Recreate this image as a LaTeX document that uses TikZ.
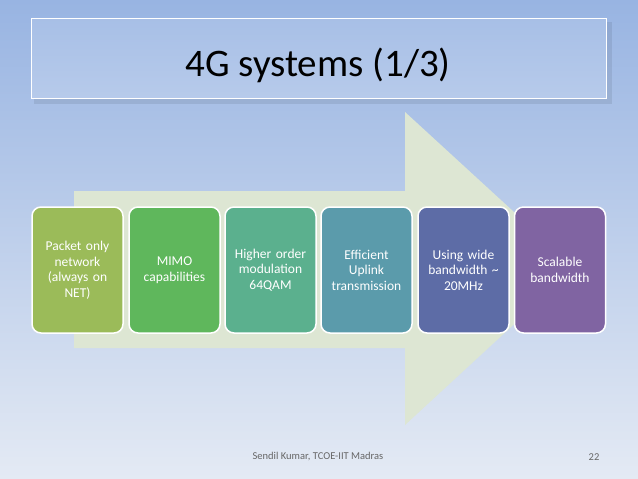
\documentclass[tikz,border=0pt]{standalone}
\usepackage{fontspec}
\setmainfont{Carlito}
\usetikzlibrary{shadows}
\definecolor{bgtop}{HTML}{98B4E2}
\definecolor{bgbot}{HTML}{E4EAF4}
\definecolor{cA}{HTML}{9BBB59}
\definecolor{cB}{HTML}{5FB75C}
\definecolor{cC}{HTML}{5BB08E}
\definecolor{cD}{HTML}{5B9BAB}
\definecolor{cE}{HTML}{5D6CA6}
\definecolor{cF}{HTML}{8064A2}
\definecolor{arrowc}{HTML}{DDE6D3}
\begin{document}
\begin{tikzpicture}[x=1pt,y=-1pt,
  box/.style={draw=white,line width=1.5pt,rounded corners=9pt,minimum width=91pt,minimum height=126pt,
    text=white,align=center,font=\fontsize{13.5}{15.5}\selectfont,text width=89pt,inner sep=0pt}]
\useasboundingbox (0,0) rectangle (638,479);
\shade[top color=bgtop,bottom color=bgbot] (0,0) rectangle (638,479);
\fill[black,opacity=0.08] (34,22) rectangle (612,104);
\node[draw=white,line width=1pt,top color=bgtop!85!white,bottom color=bgtop!70!white,minimum width=575pt,minimum height=80pt,inner sep=0pt] (title) at (318.5,58.5) {};
\node[font=\fontsize{39}{42}\selectfont,text=black] (tt) at (318,65) {4G systems (1/3)};
\fill[arrowc] (74,191) -- (405,191) -- (405,112) -- (575,268) -- (405,425) -- (405,348) -- (74,348) -- cycle;
\node[box,fill=cA] (b1) at (77.5,270) {Packet only\\network\\(always on\\NET)};
\node[box,fill=cB] (b2) at (174.5,270) {MIMO\\capabilities};
\node[box,fill=cC] (b3) at (270.5,270) {Higher order\\modulation\\64QAM};
\node[box,fill=cD] (b4) at (366.5,270) {Efficient\\Uplink\\transmission};
\node[box,fill=cE] (b5) at (463.5,270) {Using wide\\bandwidth \textasciitilde\\20MHz};
\node[box,fill=cF] (b6) at (560,270) {Scalable\\bandwidth};
\node[font=\fontsize{10.5}{12}\selectfont,text=gray!80!black] (foot) at (318,457) {Sendil Kumar, TCOE-IIT Madras};
\node[font=\fontsize{10.5}{12}\selectfont,text=gray!80!black] (pg) at (594,457) {22};
\end{tikzpicture}
\end{document}
